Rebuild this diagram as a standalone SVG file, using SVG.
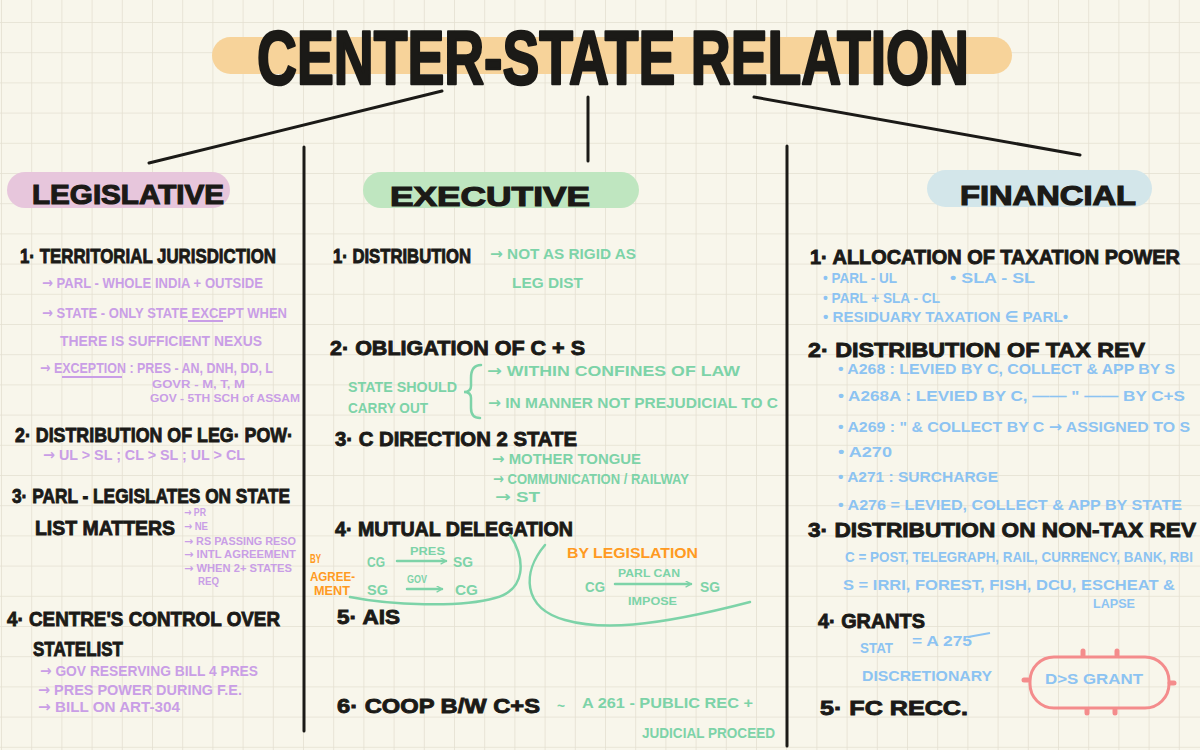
<svg xmlns="http://www.w3.org/2000/svg" width="1200" height="750" viewBox="0 0 1200 750">
<defs>
<pattern id="grid" patternUnits="userSpaceOnUse" x="1" y="22" width="30.2" height="30.2">
<path d="M0 0H30.2M0 0V30.2" fill="none" stroke="#e4e0d1" stroke-width="1.6"/>
</pattern>
<marker id="ah" viewBox="0 0 10 10" refX="8" refY="5" markerWidth="7" markerHeight="7" orient="auto" markerUnits="userSpaceOnUse">
<path d="M1 1L8 5L1 9" fill="none" stroke="#7dd3a8" stroke-width="2" stroke-linecap="round"/>
</marker>
</defs>
<style>
text{font-family:"Liberation Sans","DejaVu Sans",sans-serif;font-weight:bold}
.ar{font-family:"DejaVu Sans",sans-serif}
.t{font-size:60px;fill:#1b1a17;stroke:#1b1a17;stroke-width:2px;stroke-linejoin:round}
.hd{font-size:28px;fill:#1b1a17;stroke:#1b1a17;stroke-width:1.2px}
.h{font-size:21px;fill:#1b1a17;stroke:#1b1a17;stroke-width:0.9px}
.p{font-size:15px;fill:#c99ee6}
.ps{font-size:11px;fill:#c99ee6}
.g{font-size:15px;fill:#7dd3a8}
.gs{font-size:11px;fill:#7dd3a8}
.o{font-size:15px;fill:#ff9a22}
.os{font-size:12px;fill:#ff9a22}
.b{font-size:15px;fill:#8cc3f2}
.bs{font-size:12px;fill:#8cc3f2}
.ln{stroke:#1b1a17;stroke-width:3;fill:none;stroke-linecap:round}
.gl{stroke:#7dd3a8;stroke-width:2.5;fill:none;stroke-linecap:round}
</style>
<rect width="1200" height="750" fill="#f8f6eb"/>
<rect width="1200" height="750" fill="url(#grid)"/>

<g id="title">
<rect x="212" y="37" width="800" height="37" rx="18.5" fill="#f7d39a"/>
<text class="t" x="0" y="0" transform="translate(257 84) scale(1 1.27)" textLength="712" lengthAdjust="spacingAndGlyphs">CENTER-STATE RELATION</text>
</g>

<g id="connectors">
<line class="ln" x1="442" y1="91" x2="149" y2="163"/>
<line class="ln" x1="588" y1="97" x2="588" y2="161"/>
<line class="ln" x1="754" y1="97" x2="1080" y2="155"/>
<line class="ln" x1="304" y1="147" x2="304" y2="731"/>
<line class="ln" x1="787" y1="146" x2="787" y2="746"/>
</g>

<g id="legislative">
<rect x="7" y="172" width="223" height="36" rx="18" fill="#e7c6dc"/>
<text class="hd" x="32" y="204" textLength="192" lengthAdjust="spacingAndGlyphs">LEGISLATIVE</text>
<g id="leg-1">
<text class="h" x="20" y="263" textLength="256" lengthAdjust="spacingAndGlyphs">1· TERRITORIAL JURISDICTION</text>
<text class="p" x="42" y="288" textLength="221" lengthAdjust="spacingAndGlyphs"><tspan class="ar">→</tspan> PARL - WHOLE INDIA + OUTSIDE</text>
<text class="p" x="42" y="318" textLength="245" lengthAdjust="spacingAndGlyphs"><tspan class="ar">→</tspan> STATE - ONLY STATE EXCEPT WHEN</text>
<line x1="188" y1="321" x2="223" y2="321" stroke="#c99ee6" stroke-width="2"/>
<text class="p" x="60" y="346" textLength="202" lengthAdjust="spacingAndGlyphs">THERE IS SUFFICIENT NEXUS</text>
<text class="p" x="40" y="373" textLength="233" lengthAdjust="spacingAndGlyphs"><tspan class="ar">→</tspan> EXCEPTION : PRES - AN, DNH, DD, L</text>
<line x1="62" y1="377" x2="122" y2="377" stroke="#c99ee6" stroke-width="2"/>
<text class="ps" x="152" y="388" textLength="93" lengthAdjust="spacingAndGlyphs">GOVR - M, T, M</text>
<text class="ps" x="150" y="402" textLength="150" lengthAdjust="spacingAndGlyphs">GOV - 5TH SCH of ASSAM</text>
</g>
<g id="leg-2">
<text class="h" x="15" y="442" textLength="278" lengthAdjust="spacingAndGlyphs">2· DISTRIBUTION OF LEG· POW·</text>
<text class="p" x="43" y="460" textLength="202" lengthAdjust="spacingAndGlyphs"><tspan class="ar">→</tspan> UL &gt; SL ; CL &gt; SL ; UL &gt; CL</text>
</g>
<g id="leg-3">
<text class="h" x="12" y="503" textLength="278" lengthAdjust="spacingAndGlyphs">3· PARL - LEGISLATES ON STATE</text>
<text class="h" x="35" y="535" textLength="140" lengthAdjust="spacingAndGlyphs">LIST MATTERS</text>
<text class="ps" x="184" y="516" textLength="22" lengthAdjust="spacingAndGlyphs"><tspan class="ar">→</tspan> PR</text>
<text class="ps" x="184" y="530" textLength="24" lengthAdjust="spacingAndGlyphs"><tspan class="ar">→</tspan> NE</text>
<text class="ps" x="184" y="545" textLength="112" lengthAdjust="spacingAndGlyphs"><tspan class="ar">→</tspan> RS PASSING RESO</text>
<text class="ps" x="184" y="558" textLength="112" lengthAdjust="spacingAndGlyphs"><tspan class="ar">→</tspan> INTL AGREEMENT</text>
<text class="ps" x="184" y="572" textLength="108" lengthAdjust="spacingAndGlyphs"><tspan class="ar">→</tspan> WHEN 2+ STATES</text>
<text class="ps" x="198" y="585" textLength="21" lengthAdjust="spacingAndGlyphs">REQ</text>
</g>
<g id="leg-4">
<text class="h" x="7" y="626" textLength="273" lengthAdjust="spacingAndGlyphs">4· CENTRE'S CONTROL OVER</text>
<text class="h" x="33" y="656" textLength="90" lengthAdjust="spacingAndGlyphs">STATELIST</text>
<text class="p" x="40" y="676" textLength="218" lengthAdjust="spacingAndGlyphs"><tspan class="ar">→</tspan> GOV RESERVING BILL 4 PRES</text>
<text class="p" x="38" y="695" textLength="204" lengthAdjust="spacingAndGlyphs"><tspan class="ar">→</tspan> PRES POWER DURING F.E.</text>
<text class="p" x="38" y="712" textLength="142" lengthAdjust="spacingAndGlyphs"><tspan class="ar">→</tspan> BILL ON ART-304</text>
</g>
</g>

<g id="executive">
<rect x="363" y="172" width="276" height="36" rx="18" fill="#bfe6c0"/>
<text class="hd" x="390" y="206" textLength="200" lengthAdjust="spacingAndGlyphs">EXECUTIVE</text>
<g id="exe-1">
<text class="h" x="0" y="0" style="font-size:15px;stroke-width:0.7px" transform="translate(333 263) scale(1 1.4)" textLength="138" lengthAdjust="spacingAndGlyphs">1· DISTRIBUTION</text>
<text class="g" x="490" y="259" textLength="146" lengthAdjust="spacingAndGlyphs"><tspan class="ar">→</tspan> NOT AS RIGID AS</text>
<text class="g" x="512" y="288" textLength="71" lengthAdjust="spacingAndGlyphs">LEG DIST</text>
</g>
<g id="exe-2">
<text class="h" x="330" y="355" textLength="255" lengthAdjust="spacingAndGlyphs">2· OBLIGATION OF C + S</text>
<text class="g" x="348" y="392" textLength="109" lengthAdjust="spacingAndGlyphs">STATE SHOULD</text>
<text class="g" x="348" y="413" textLength="80" lengthAdjust="spacingAndGlyphs">CARRY OUT</text>
<path class="gl" d="M481 365Q471 365 471 378L471 386Q471 392 464 392Q471 392 471 398L471 408Q471 418 480 418"/>
<text class="g" x="487" y="376" textLength="253" lengthAdjust="spacingAndGlyphs"><tspan class="ar">→</tspan> WITHIN CONFINES OF LAW</text>
<text class="g" x="488" y="408" textLength="290" lengthAdjust="spacingAndGlyphs"><tspan class="ar">→</tspan> IN MANNER NOT PREJUDICIAL TO C</text>
</g>
<g id="exe-3">
<text class="h" x="335" y="446" textLength="242" lengthAdjust="spacingAndGlyphs">3· C DIRECTION 2 STATE</text>
<text class="g" x="492" y="464" textLength="149" lengthAdjust="spacingAndGlyphs"><tspan class="ar">→</tspan> MOTHER TONGUE</text>
<text class="g" x="493" y="484" textLength="196" lengthAdjust="spacingAndGlyphs"><tspan class="ar">→</tspan> COMMUNICATION / RAILWAY</text>
<text class="g" x="495" y="502" textLength="45" lengthAdjust="spacingAndGlyphs"><tspan class="ar">→</tspan> ST</text>
</g>
<g id="exe-4">
<text class="h" x="335" y="536" textLength="238" lengthAdjust="spacingAndGlyphs">4· MUTUAL DELEGATION</text>
<text class="os" x="310" y="563" textLength="11" lengthAdjust="spacingAndGlyphs">BY</text>
<text class="os" x="310" y="581" textLength="45" lengthAdjust="spacingAndGlyphs">AGREE-</text>
<text class="os" x="314" y="595" textLength="36" lengthAdjust="spacingAndGlyphs">MENT</text>
<text class="g" x="367" y="567" textLength="18" lengthAdjust="spacingAndGlyphs">CG</text>
<text class="gs" x="410" y="555" textLength="35" lengthAdjust="spacingAndGlyphs">PRES</text>
<line class="gl" x1="397" y1="561" x2="446" y2="561" marker-end="url(#ah)"/>
<text class="g" x="453" y="567" textLength="20" lengthAdjust="spacingAndGlyphs">SG</text>
<text class="g" x="367" y="595" textLength="21" lengthAdjust="spacingAndGlyphs">SG</text>
<text class="gs" x="407" y="583" textLength="20" lengthAdjust="spacingAndGlyphs">GOV</text>
<line class="gl" x1="407" y1="589" x2="442" y2="589" marker-end="url(#ah)"/>
<text class="g" x="455" y="595" textLength="23" lengthAdjust="spacingAndGlyphs">CG</text>
<path class="gl" d="M510 535C526 560 526 590 495 598C460 608 390 605 350 597"/>
<path class="gl" d="M545 545C522 572 522 608 565 620C600 630 650 628 750 602"/>
<text class="o" x="567" y="558" textLength="131" lengthAdjust="spacingAndGlyphs">BY LEGISLATION</text>
<text class="g" x="585" y="592" textLength="20" lengthAdjust="spacingAndGlyphs">CG</text>
<text class="gs" x="618" y="577" textLength="62" lengthAdjust="spacingAndGlyphs">PARL CAN</text>
<line class="gl" x1="615" y1="584" x2="691" y2="584" marker-end="url(#ah)"/>
<text class="g" x="700" y="592" textLength="20" lengthAdjust="spacingAndGlyphs">SG</text>
<text class="gs" x="628" y="605" textLength="49" lengthAdjust="spacingAndGlyphs">IMPOSE</text>
</g>
<g id="exe-5">
<text class="h" x="337" y="624" textLength="63" lengthAdjust="spacingAndGlyphs">5· AIS</text>
</g>
<g id="exe-6">
<text class="h" x="337" y="713" textLength="203" lengthAdjust="spacingAndGlyphs">6· COOP B/W C+S</text>
<text class="g" x="557" y="711" textLength="8" lengthAdjust="spacingAndGlyphs">~</text>
<text class="g" x="582" y="708" textLength="171" lengthAdjust="spacingAndGlyphs">A 261 - PUBLIC REC +</text>
<text class="g" x="642" y="738" textLength="133" lengthAdjust="spacingAndGlyphs">JUDICIAL PROCEED</text>
</g>
</g>

<g id="financial">
<rect x="927" y="170" width="225" height="37" rx="18.5" fill="#d3e6ea"/>
<text class="hd" x="960" y="205" textLength="176" lengthAdjust="spacingAndGlyphs">FINANCIAL</text>
<g id="fin-1">
<text class="h" x="810" y="264" textLength="370" lengthAdjust="spacingAndGlyphs">1· ALLOCATION OF TAXATION POWER</text>
<text class="b" x="823" y="283" textLength="74" lengthAdjust="spacingAndGlyphs">• PARL - UL</text>
<text class="b" x="950" y="283" textLength="85" lengthAdjust="spacingAndGlyphs">• SLA - SL</text>
<text class="b" x="823" y="303" textLength="117" lengthAdjust="spacingAndGlyphs">• PARL + SLA - CL</text>
<text class="b" x="823" y="322" textLength="245" lengthAdjust="spacingAndGlyphs">• RESIDUARY TAXATION ∈ PARL•</text>
</g>
<g id="fin-2">
<text class="h" x="808" y="357" textLength="337" lengthAdjust="spacingAndGlyphs">2· DISTRIBUTION OF TAX REV</text>
<text class="b" x="838" y="374" textLength="337" lengthAdjust="spacingAndGlyphs">• A268 : LEVIED BY C, COLLECT &amp; APP BY S</text>
<text class="b" x="838" y="401" textLength="347" lengthAdjust="spacingAndGlyphs">• A268A : LEVIED BY C, —— " ——  BY C+S</text>
<text class="b" x="838" y="432" textLength="352" lengthAdjust="spacingAndGlyphs">• A269 :  "  &amp; COLLECT BY C <tspan class="ar">→</tspan> ASSIGNED TO S</text>
<text class="b" x="838" y="457" textLength="54" lengthAdjust="spacingAndGlyphs">• A270</text>
<text class="b" x="838" y="482" textLength="160" lengthAdjust="spacingAndGlyphs">• A271 : SURCHARGE</text>
<text class="b" x="838" y="510" textLength="344" lengthAdjust="spacingAndGlyphs">• A276 = LEVIED, COLLECT &amp; APP BY STATE</text>
</g>
<g id="fin-3">
<text class="h" x="808" y="537" textLength="388" lengthAdjust="spacingAndGlyphs">3· DISTRIBUTION ON NON-TAX REV</text>
<text class="b" x="0" y="0" style="font-size:12px" transform="translate(845 562) scale(1 1.25)" textLength="348" lengthAdjust="spacingAndGlyphs">C = POST, TELEGRAPH, RAIL, CURRENCY, BANK, RBI</text>
<text class="b" x="843" y="590" textLength="332" lengthAdjust="spacingAndGlyphs">S = IRRI, FOREST, FISH, DCU, ESCHEAT &amp;</text>
<text class="bs" x="1093" y="608" textLength="42" lengthAdjust="spacingAndGlyphs">LAPSE</text>
</g>
<g id="fin-4">
<text class="h" x="818" y="628" textLength="107" lengthAdjust="spacingAndGlyphs">4· GRANTS</text>
<text class="b" x="860" y="653" textLength="33" lengthAdjust="spacingAndGlyphs">STAT</text>
<text class="b" x="912" y="646" textLength="60" lengthAdjust="spacingAndGlyphs">= A 275</text>
<path d="M968 637L990 633" stroke="#8cc3f2" stroke-width="2" fill="none"/>
<text class="b" x="862" y="681" textLength="130" lengthAdjust="spacingAndGlyphs">DISCRETIONARY</text>
</g>
<g id="fin-5">
<text class="h" x="820" y="715" textLength="148" lengthAdjust="spacingAndGlyphs">5· FC RECC.</text>
</g>
<g id="dsgrant">
<rect x="1030" y="657" width="139" height="51" rx="24" fill="none" stroke="#f48c8c" stroke-width="3"/>
<g stroke="#f48c8c" stroke-width="5" stroke-linecap="round">
<line x1="1083" y1="651" x2="1083" y2="655"/>
<line x1="1117" y1="651" x2="1117" y2="655"/>
<line x1="1087" y1="710" x2="1087" y2="713"/>
<line x1="1115" y1="710" x2="1115" y2="713"/>
<line x1="1024" y1="680" x2="1028" y2="680"/>
<line x1="1170" y1="683" x2="1174" y2="683"/>
</g>
<text class="b" x="1045" y="684" textLength="98" lengthAdjust="spacingAndGlyphs">D&gt;S GRANT</text>
</g>
</g>
</svg>
